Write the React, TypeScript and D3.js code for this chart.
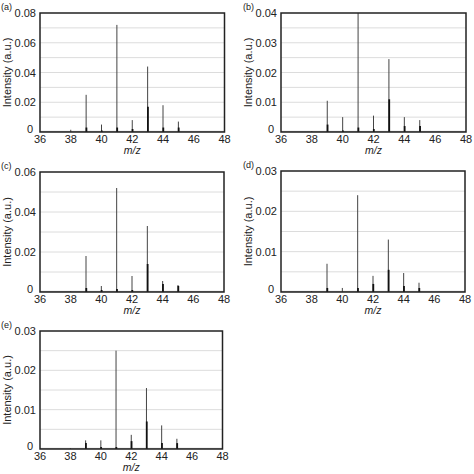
import React from "react";
import * as d3 from "d3";

const masses = [38, 39, 40, 41, 42, 43, 44, 45];
const xTicks = [36, 38, 40, 42, 44, 46, 48];

const mainA = [0.0015, 0.025, 0.005, 0.072, 0.008, 0.044, 0.018, 0.007];
const secA = [0, 0.003, 0.001, 0.003, 0.002, 0.017, 0.003, 0.003];
const mainB = [0.0003, 0.0105, 0.005, 0.04, 0.0055, 0.0245, 0.005, 0.004];
const secB = [0, 0.0025, 0.0005, 0.0015, 0.001, 0.011, 0.002, 0.002];
const mainC = [0.0003, 0.018, 0.003, 0.052, 0.008, 0.033, 0.0055, 0.0035];
const secC = [0, 0.002, 0.001, 0.0015, 0.001, 0.014, 0.004, 0.003];
const mainD = [0.0002, 0.007, 0.001, 0.024, 0.004, 0.013, 0.0047, 0.0023];
const secD = [0, 0.001, 0, 0.001, 0.002, 0.0055, 0.0015, 0.001];
const mainE = [0.0002, 0.0022, 0.0022, 0.025, 0.0036, 0.0155, 0.006, 0.0026];
const secE = [0, 0.0015, 0.0005, 0.0005, 0.002, 0.007, 0.0015, 0.0015];

type Panel = {
  label: string;
  main: number[];
  sec: number[];
  yMax: number;
  yStep: number;
  grid: number;
  x0: number;
  x1: number;
  y0: number;
  y1: number;
  labX: number;
};

const panels: Panel[] = [
  { label: "(a)", main: mainA, sec: secA, yMax: 0.08, yStep: 0.02, grid: 0.01, x0: 40, x1: 224.5, y0: 13, y1: 132, labX: 1 },
  { label: "(b)", main: mainB, sec: secB, yMax: 0.04, yStep: 0.01, grid: 0.005, x0: 281, x1: 466, y0: 13, y1: 132, labX: 243 },
  { label: "(c)", main: mainC, sec: secC, yMax: 0.06, yStep: 0.02, grid: 0.01, x0: 40, x1: 224, y0: 172, y1: 292, labX: 1 },
  { label: "(d)", main: mainD, sec: secD, yMax: 0.03, yStep: 0.01, grid: 0.005, x0: 281, x1: 465, y0: 171, y1: 292, labX: 243 },
  { label: "(e)", main: mainE, sec: secE, yMax: 0.03, yStep: 0.01, grid: 0.005, x0: 40, x1: 222.5, y0: 331, y1: 449, labX: 1 },
];

const FONT = "Liberation Sans, Arial, sans-serif";
const TXT = "#222";

function PanelView({ p }: { p: Panel }) {
  const x = d3.scaleLinear().domain([36, 48]).range([p.x0, p.x1]);
  const y = d3.scaleLinear().domain([0, p.yMax]).range([p.y1, p.y0]);
  const grids = d3.range(p.grid, p.yMax - 1e-9, p.grid);
  const yTicks = d3.range(0, p.yMax + 1e-9, p.yStep);
  const cx = (p.x0 + p.x1) / 2;
  const cy = (p.y0 + p.y1) / 2;
  return (
    <g fontFamily={FONT} fill={TXT}>
      {grids.map((g, i) => (
        <line key={"g" + i} x1={p.x0} x2={p.x1} y1={y(g)} y2={y(g)} stroke="#dcdcdc" strokeWidth={1} />
      ))}
      <line x1={p.x0} x2={p.x1} y1={p.y1 - 0.6} y2={p.y1 - 0.6} stroke="#888" strokeWidth={0.8} />
      {masses.map((m, i) => (
        <line key={"m" + i} x1={x(m)} x2={x(m)} y1={y(0)} y2={y(p.main[i])} stroke="#444" strokeWidth={1} />
      ))}
      {masses.map((m, i) =>
        p.sec[i] > 0 ? (
          <line key={"s" + i} x1={x(m + 0.02)} x2={x(m + 0.02)} y1={y(0)} y2={y(p.sec[i])} stroke="#111" strokeWidth={1.8} />
        ) : null
      )}
      <rect x={p.x0} y={p.y0} width={p.x1 - p.x0} height={p.y1 - p.y0} fill="none" stroke="#222" strokeWidth={1.5} />
      {yTicks.map((t, i) =>
        t === 0 ? (
          <text key={"y" + i} x={p.x0 - 7} y={p.y1 + 1} fontSize={11} textAnchor="end">0</text>
        ) : (
          <text key={"y" + i} x={p.x0 - 4} y={y(t) + 4} fontSize={11} textAnchor="end">{t.toFixed(2)}</text>
        )
      )}
      {xTicks.map((t, i) => (
        <text key={"x" + i} x={x(t)} y={p.y1 + 11} fontSize={11} textAnchor="middle">{t}</text>
      ))}
      <text x={cx} y={p.y1 + 22} fontSize={10.5} textAnchor="middle" fontStyle="italic">m/z</text>
      <text transform={`translate(${p.x0 - 29},${cy}) rotate(-90)`} fontSize={11} textAnchor="middle">Intensity (a.u.)</text>
      <text x={p.labX} y={p.y0 - 3} fontSize={9}>{p.label}</text>
    </g>
  );
}

export default function App() {
  return (
    <div style={{ position: "absolute", left: 0, top: 0, width: 474, height: 474, background: "#fff" }}>
      <svg width={474} height={474} style={{ display: "block" }}>
        <rect width={474} height={474} fill="#fff" />
        {panels.map((p) => (
          <PanelView key={p.label} p={p} />
        ))}
      </svg>
    </div>
  );
}
